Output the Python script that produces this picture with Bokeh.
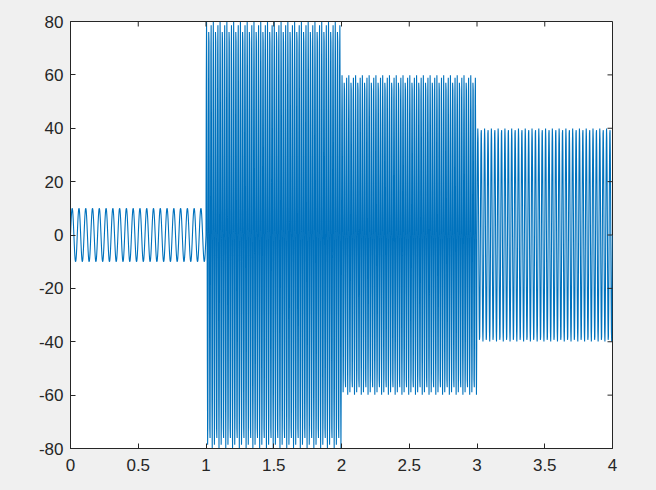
import numpy as np
from bokeh.plotting import figure
from bokeh.models import LinearAxis, FixedTicker, Range1d
from bokeh.embed import file_html
from bokeh.resources import INLINE

# ---- data (segment parameters) ----
seg_start = [0.0, 1.0, 2.0, 3.0]
seg_end = [1.0, 2.0, 3.0, 4.0]
amplitudes = [10, 80, 60, 40]
frequencies = [20, 60, 60, 40]
sample_rate = 500

x_ticks = [0, 0.5, 1, 1.5, 2, 2.5, 3, 3.5, 4]
x_tick_labels = ["0", "0.5", "1", "1.5", "2", "2.5", "3", "3.5", "4"]
y_ticks = [-80, -60, -40, -20, 0, 20, 40, 60, 80]
y_tick_labels = ["-80", "-60", "-40", "-20", "0", "20", "40", "60", "80"]

t = np.arange(0, seg_end[-1] * sample_rate + 1) / sample_rate
sig = np.zeros_like(t)
for s, e, a, f in zip(seg_start, seg_end, amplitudes, frequencies):
    m = (t >= s) & (t < e) if e < seg_end[-1] else (t >= s) & (t <= e)
    sig[m] = a * np.sin(2 * np.pi * f * t[m])

TXT = "#262626"
W, H = 656, 490
p = figure(width=W, height=H, output_backend="svg", toolbar_location=None,
           x_range=Range1d(0, 4), y_range=Range1d(-80, 80),
           min_border_left=70, min_border_right=44, min_border_top=21, min_border_bottom=42,
           x_axis_location=None, y_axis_location=None)
p.border_fill_color = "#f0f0f0"
p.background_fill_color = "white"
p.outline_line_color = TXT
p.outline_line_width = 1
p.grid.visible = False

p.line(t, sig, line_color="#0072BD", line_width=1.1)

def mk_axis(ticks, labels, standoff):
    ax = LinearAxis(ticker=FixedTicker(ticks=ticks))
    ax.major_label_overrides = {k: v for k, v in zip(ticks, labels)}
    ax.axis_line_color = TXT
    ax.major_tick_line_color = TXT
    ax.major_tick_in = 5
    ax.major_tick_out = 0
    ax.minor_tick_in = 0
    ax.minor_tick_out = 0
    ax.major_label_text_font = "Liberation Sans"
    ax.major_label_text_color = TXT
    ax.major_label_text_font_size = "17px"
    ax.major_label_standoff = standoff
    return ax

p.add_layout(mk_axis(x_ticks, x_tick_labels, 10), "below")
p.add_layout(mk_axis(y_ticks, y_tick_labels, 7), "left")

# inward ticks on the top and right edges of the box
top_y = [y_ticks[-1]] * len(x_ticks)
p.ray(x=x_ticks, y=top_y, length=5, length_units="screen", angle=-np.pi / 2,
      line_color=TXT, line_width=1)
right_x = [x_ticks[-1]] * len(y_ticks)
p.ray(x=right_x, y=y_ticks, length=5, length_units="screen", angle=np.pi,
      line_color=TXT, line_width=1)

html = file_html(p, INLINE)
html = html.replace("<head>", "<head><style>html,body{background:#f0f0f0;}</style>", 1)
open("out.html", "w").write(html)
